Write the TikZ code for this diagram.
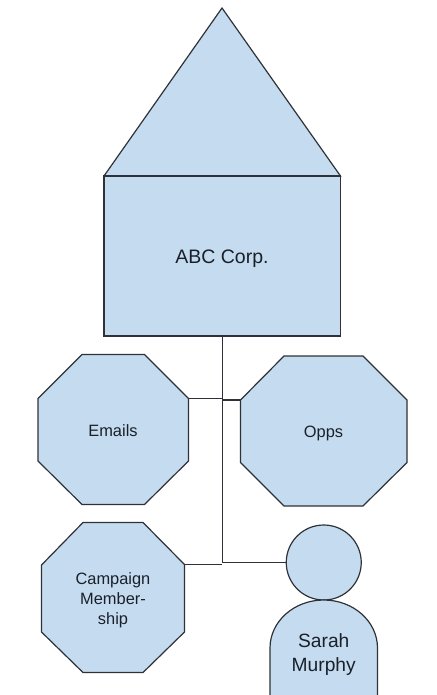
\documentclass[tikz,border=0pt]{standalone}
\usepackage{fontspec}
\setmainfont{Liberation Sans}
\definecolor{cfill}{HTML}{C5DCF0}
\definecolor{cline}{HTML}{2E3238}
\definecolor{ctext}{HTML}{1A202A}
\tikzset{
  every picture/.style={line width=1.2pt},
  part/.style={draw=cline, fill=cfill, text=ctext, align=center, inner sep=0pt},
  label/.style={text=ctext, align=center, inner sep=0pt, font=\fontsize{16.4}{20}\selectfont},
  biglabel/.style={label, font=\fontsize{19.2}{24}\selectfont},
  link/.style={draw=cline, line width=1.3pt},
}

\begin{document}
\begin{tikzpicture}[x=1pt, y=-1pt]
  \useasboundingbox (0,0) rectangle (436,695);
  % house
  \coordinate (apex) at (222,8);
  \coordinate (abcnw) at (104,176);
  \coordinate (abcne) at (340.5,176);
  \draw[part] (abcnw) -- (apex) -- (abcne) -- cycle;
  \node[part, minimum width=236.5pt, minimum height=160pt] (abc) at (222.25,256) {};
  \node[biglabel, font=\fontsize{19.5}{24}\selectfont] (abctext) at (222,259) {ABC Corp.};
  % octagons
  \coordinate (emailscorner) at (188.5,398.5);
  \draw[part] (82,354.5) -- (144.5,354.5) -- (emailscorner) -- (188.5,461) -- (144.5,504.5) -- (82,504.5) -- (38,461) -- (38,398.5) -- cycle;
  \node[label] (emails) at (113,430.5) {Emails};
  \coordinate (oppscorner) at (240.5,400);
  \draw[part] (284,356) -- (363,356) -- (407,400) -- (407,462.5) -- (363,506) -- (284,506) -- (240.5,462.5) -- (oppscorner) -- cycle;
  \node[label] (opps) at (323.5,433.5) {Opps};
  \coordinate (campaigncorner) at (184.5,564.5);
  \draw[part] (83,522.5) -- (143,522.5) -- (campaigncorner) -- (184.5,632) -- (143,672.5) -- (83,672.5) -- (41.5,632) -- (41.5,565) -- cycle;
  \node[label] (campaign) at (113,600) {Campaign\\Member-\\ship};
  % person
  \node[part, circle, minimum size=75pt] (head) at (323.75,562.5) {};
  \draw[part] (270,697) -- (270,648) arc (180:360:53.75 and 48) -- (377.5,697);
  \node[biglabel] (sarah) at (323.75,654.5) {Sarah\\Murphy};
  % connectors
  \draw[link] (abc.south) -- (head.west -| abc.south);
  \draw[link] (head.west) -- (head.west -| abc.south);
  \draw[link] (emailscorner) -- (emailscorner -| abc.south);
  \draw[link] (oppscorner) -- (oppscorner -| abc.south);
  \draw[link] (campaigncorner) -- (campaigncorner -| abc.south);
\end{tikzpicture}
\end{document}
